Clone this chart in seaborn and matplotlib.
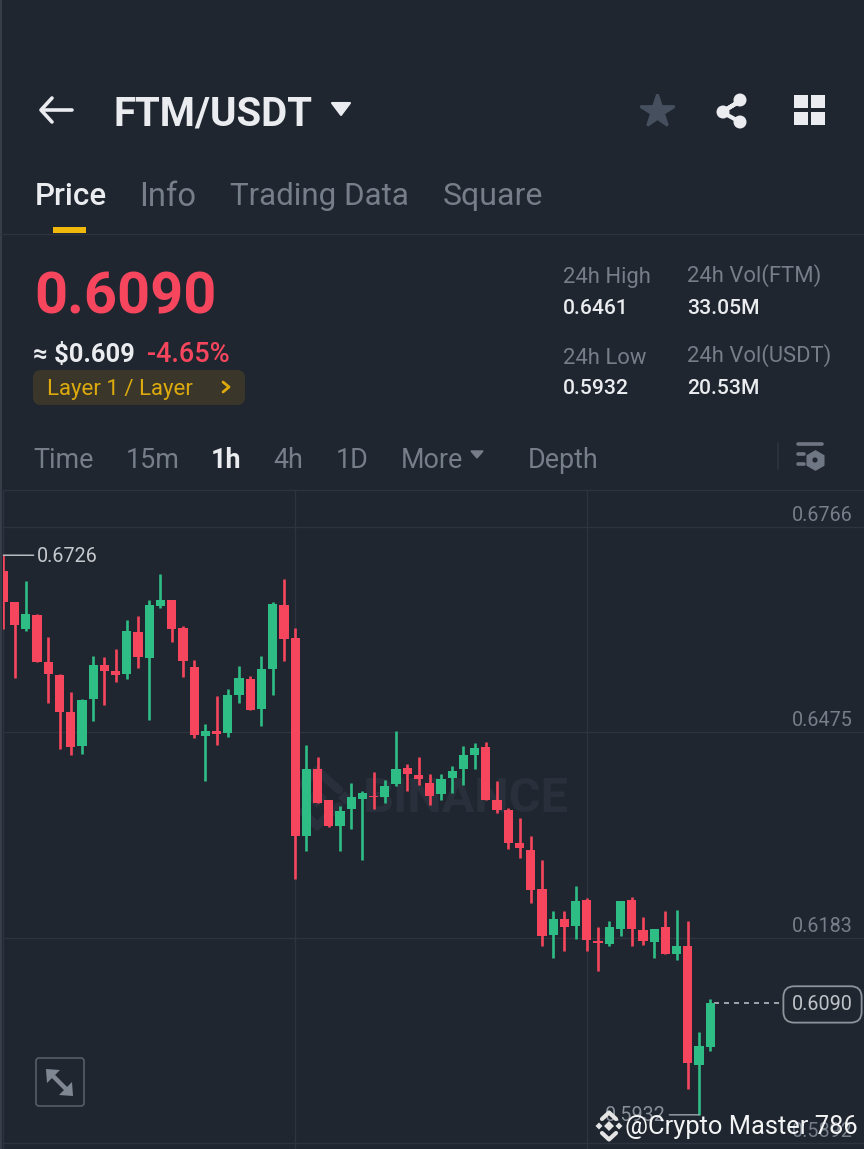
import numpy as np
import pandas as pd
import seaborn as sns
import matplotlib
matplotlib.use("Agg")
import matplotlib.pyplot as plt
from matplotlib.patches import FancyBboxPatch, Polygon, Circle, Rectangle

highs = [.6726,.6659,.6689,.6643,.6610,.6557,.6532,.6522,.6583,.6582,.6593,.6634,.6640,.6663,.6700,.6663,
         .6625,.6578,.6487,.6526,.6536,.6569,.6555,.6583,.6660,.6692,.6622,.6456,.6440,.6379,.6370,.6403,
         .6391,.6419,.6407,.6476,.6430,.6440,.6415,.6415,.6427,.6455,.6459,.6461,.6406,.6367,.6353,.6327,
         .6293,.6221,.6221,.6256,.6240,.6199,.6207,.6236,.6241,.6212,.6196,.6221,.6223,.6207,.6050,.6096]
tops = [.6703,.6659,.6642,.6641,.6574,.6556,.6503,.6521,.6570,.6570,.6562,.6618,.6617,.6655,.6662,.6662,
        .6622,.6568,.6477,.6477,.6527,.6552,.6551,.6564,.6657,.6655,.6609,.6422,.6422,.6379,.6363,.6383,
        .6389,.6385,.6399,.6423,.6424,.6414,.6403,.6409,.6420,.6442,.6453,.6454,.6379,.6364,.6317,.6308,
        .6252,.6210,.6210,.6235,.6237,.6179,.6198,.6235,.6237,.6194,.6196,.6198,.6171,.6172,.6030,.6090]
bottoms = [.6659,.6627,.6621,.6575,.6558,.6504,.6454,.6455,.6522,.6562,.6556,.6557,.6582,.6580,.6654,.6621,
           .6576,.6471,.6470,.6473,.6474,.6527,.6507,.6508,.6564,.6607,.6327,.6327,.6375,.6342,.6342,.6366,
           .6380,.6383,.6383,.6401,.6416,.6408,.6385,.6387,.6410,.6423,.6443,.6379,.6365,.6318,.6311,.6251,
           .6186,.6187,.6199,.6200,.6180,.6176,.6175,.6196,.6196,.6179,.6177,.6160,.6160,.6006,.6003,.6028]
lows = [.6621,.6552,.6618,.6574,.6516,.6451,.6443,.6444,.6491,.6514,.6546,.6551,.6566,.6492,.6651,.6603,
        .6553,.6466,.6406,.6457,.6468,.6516,.6507,.6484,.6527,.6576,.6266,.6306,.6375,.6340,.6307,.6338,
        .6293,.6366,.6375,.6398,.6391,.6400,.6372,.6378,.6389,.6400,.6423,.6379,.6360,.6309,.6297,.6233,
        .6172,.6154,.6165,.6181,.6164,.6136,.6171,.6186,.6171,.6173,.6154,.6160,.6152,.5968,.5932,.6022]
directions = ['R','R','G','R','R','R','R','G','G','R','R','G','R','G','G','R',
              'R','R','G','R','G','G','R','G','G','R','R','G','R','R','G','G',
              'G','R','G','G','R','R','R','G','G','G','G','R','R','R','R','R',
              'R','G','R','G','R','R','G','G','R','R','G','R','G','R','G','G']
grid_prices = [0.6766, 0.6475, 0.6183, 0.5892]
grid_labels = ['0.6766', '0.6475', '0.6183', '0.5892']
grid_candles = [26, 52]
last_price = 0.6090
period_high = 0.6726
period_low = 0.5932

BG = '#1f2630'; GRID = '#2d343f'; UP = '#2ebd85'; DOWN = '#f6465d'
GRAY = '#767e8a'; WHITE = '#eaecef'; YELLOW = '#f0b90b'
W, H = 864, 1149
FONT = ['Roboto', 'DejaVu Sans']
X0, DX = 3.4, 11.22
SCALE = 7048.0

sns.set_theme(style='dark', rc={'axes.facecolor': 'none', 'figure.facecolor': BG})
plt.rcParams['font.family'] = FONT

df = pd.DataFrame(dict(i=np.arange(len(highs)), h=highs, t=tops, b=bottoms, l=lows, d=directions))
fig = plt.figure(figsize=(W/100, H/100), dpi=100, facecolor=BG)
ui = fig.add_axes([0, 0, 1, 1]); ui.set_xlim(0, W); ui.set_ylim(H, 0); ui.axis('off')
ax = fig.add_axes([3/W, 0, (W-3)/W, (H-490)/H]); ax.set_zorder(2)

def T(x, y, s, size, color=GRAY, weight='normal', ha='left', **k):
    return ui.text(x, y+2, s, fontsize=size, color=color, fontweight=weight, ha=ha, va='center', **k)

# frame lines
ui.plot([0.8, 0.8], [0, H], color='#3d444f', lw=1.2)
ui.plot([0, W], [234, 234], color=GRID, lw=1)
ui.plot([3, W], [490, 490], color=GRID, lw=1)
ui.plot([3, 3], [490, H], color=GRID, lw=1)

# header
ui.plot([42, 72], [110, 110], color=WHITE, lw=2.6)
ui.plot([52, 41, 52], [98, 110, 122], color=WHITE, lw=2.6, solid_joinstyle='round')
T(114, 112.5, 'FTM/USDT', 29, WHITE, 'bold')
ui.add_patch(Polygon([[332, 103], [350, 103], [341, 115]], closed=True, fc=WHITE, ec=WHITE, lw=1.5, joinstyle='round'))
ui.plot([657], [111], marker='*', ms=25, color='#464f5e', mec='#464f5e', mew=2, mfc='#464f5e')
ui.plot([722, 740, 722, 740], [112, 101, 112, 122], color=WHITE, lw=3)
for cx, cy, r in [(723, 112, 6.5), (740, 100, 6.5), (740, 122, 6.5)]:
    ui.add_patch(Circle((cx, cy), r, fc=WHITE, ec='none'))
for x0 in (794, 811):
    for y0 in (95, 112):
        ui.add_patch(Rectangle((x0, y0), 14, 13, fc=WHITE, ec='none'))

T(35, 194.5, 'Price', 22.5, WHITE, 'medium')
T(139, 194.5, 'Info', 23.5, GRAY)
T(230, 194.5, 'Trading Data', 22.5, GRAY)
T(443, 194.5, 'Square', 23, GRAY)
ui.add_patch(Rectangle((53, 227), 33, 6, fc=YELLOW, ec='none'))

# price block
T(34, 296, '0.6090', 41.5, DOWN, 'bold')
T(33, 353, '≈ $0.609', 18.4, WHITE, 'bold')
T(147, 353, '-4.65%', 19.5, DOWN, 'medium')
ui.add_patch(FancyBboxPatch((39, 376), 200, 23, boxstyle='round,pad=6,rounding_size=8', fc='#3a3629', ec='none'))
T(47, 387, 'Layer 1 / Layer', 16, '#dcaa0d')
ui.plot([223, 229, 223], [382, 387, 392], color='#dcaa0d', lw=2)

T(563, 276, '24h High', 15.8)
T(563, 306, '0.6461', 15.2, WHITE, 'medium')
T(687, 274, '24h Vol(FTM)', 15.8)
T(687, 306, '33.05M', 15.2, WHITE, 'medium')
T(563, 356, '24h Low', 15.8)
T(563, 386, '0.5932', 15.2, WHITE, 'medium')
T(687, 354, '24h Vol(USDT)', 15.8)
T(687, 386, '20.53M', 15.2, WHITE, 'medium')

# interval row
for x, s in [(33, 'Time'), (126, '15m'), (273, '4h'), (336, '1D'), (401, 'More'), (528, 'Depth')]:
    T(x, 458, s, 19.4)
T(211, 458, '1h', 19.4, WHITE, 'bold')
ui.add_patch(Polygon([[471, 451], [483, 451], [477, 458]], closed=True, fc=GRAY, ec=GRAY, lw=1))
ui.plot([778, 778], [443, 469], color=GRID, lw=1.2)
ICON = '#6f7784'
ui.plot([798, 822], [444, 444], color=ICON, lw=2.6)
ui.plot([798, 804], [454, 454], color=ICON, lw=2.6)
ui.plot([798, 804], [464, 464], color=ICON, lw=2.6)
ui.plot([815], [460], marker='h', ms=15, color=ICON, mec=ICON, mew=0)
ui.add_patch(Circle((815, 460), 2.6, fc=BG, ec='none', zorder=4))

# watermark
MARK = '#2a303b'
ui.text(363, 799, 'BINANCE', fontsize=35, color=MARK, fontweight='bold', va='center', ha='left')
ui.plot([303, 317, 339], [784, 770, 790], color=MARK, lw=6)
ui.plot([303, 317, 339], [812, 826, 806], color=MARK, lw=6)
ui.add_patch(Polygon([[307, 798], [317, 788], [327, 798], [317, 808]], closed=True, fc=MARK, ec='none'))
ui.add_patch(Polygon([[338, 798], [345, 791], [352, 798], [345, 805]], closed=True, fc=MARK, ec='none'))

# candles
ax.set_facecolor('none')
for d, col in [('G', UP), ('R', DOWN)]:
    sub = df[df.d == d]
    sns.barplot(x=sub.i.values, y=(sub.t - sub.b).values, bottom=sub.b.values, native_scale=True,
                color=col, saturation=1, width=0.82, linewidth=0, errorbar=None, ax=ax, zorder=3)
    ax.vlines(sub.i, sub.l, sub.h, color=col, lw=1.9, zorder=3)

ax.set_xlim((3-X0)/DX, (W-X0)/DX)
ax.set_ylim(0.6766-(H-527)/SCALE, 0.6766-(490-527)/SCALE)
ax.set_yticks(grid_prices); ax.set_xticks(grid_candles)
ax.set_xticklabels([]); ax.set_yticklabels([])
ax.grid(True, color=GRID, lw=1); ax.set_axisbelow(True)
ax.tick_params(length=0)
ax.set_xlabel(''); ax.set_ylabel('')
for s in ax.spines.values():
    s.set_visible(False)

for p, lab in zip(grid_prices, grid_labels):
    ax.annotate(lab, xy=(1, p), xycoords=('axes fraction', 'data'), xytext=(-8, 8.2),
                textcoords='offset points', color=GRAY, fontsize=14.2, ha='right', va='center')

# high / low / last labels
ax.annotate('0.6726', xy=(0, period_high), xytext=(33.5, -1), xycoords=('data', 'data'),
            textcoords='offset pixels', color='#c6c9ce', fontsize=14.2, va='center', ha='left',
            arrowprops=dict(arrowstyle='-', color='#c6c9ce', lw=1, shrinkA=0, shrinkB=0, relpos=(0, 0.55)))
ax.annotate('0.5932', xy=(62, period_low), xytext=(-33, -1), xycoords='data', textcoords='offset pixels',
            color='#8a9099', fontsize=14.2, va='center', ha='right',
            arrowprops=dict(arrowstyle='-', color='#a0a5ac', lw=1, shrinkA=0, shrinkB=0, relpos=(1, 0.55)))
ax.plot([63.3, (779-X0)/DX], [last_price, last_price], color='#b4b8be', lw=1.2, ls=(0, (3, 3)), zorder=2)
ax.annotate('0.6090', xy=(1, last_price), xycoords=('axes fraction', 'data'), xytext=(-41.5, -1),
            textcoords='offset pixels', color='#c0c3c8', fontsize=14.2, ha='center', va='center',
            bbox=dict(boxstyle='round,pad=0.44,rounding_size=0.55', fc=BG, ec='#8f949b', lw=1.3))

# expand button
ui.add_patch(FancyBboxPatch((38, 1060), 44, 44, boxstyle='round,pad=2,rounding_size=3', fc=BG, ec='#565d68', lw=1.2, zorder=5))
AR = '#7f8793'
ui.plot([50, 69], [1073, 1092], color=AR, lw=3.2, zorder=6)
ui.add_patch(Polygon([[46, 1069], [60, 1070], [47, 1083]], closed=True, fc=AR, ec='none', zorder=6))
ui.add_patch(Polygon([[73, 1096], [59, 1095], [72, 1082]], closed=True, fc=AR, ec='none', zorder=6))

# foreground watermark
ov = fig.add_axes([0, 0, 1, 1]); ov.set_xlim(0, W); ov.set_ylim(H, 0); ov.axis('off'); ov.set_zorder(5)
ov.text(625, 1127, '@Crypto Master 786', fontsize=18.4, color='white', ha='left', va='center', alpha=0.95)
logo = '#e4e4e4'
for cx, cy, s in [(609, 1126, 5), (599, 1126, 3.5), (619, 1126, 3.5)]:
    ov.add_patch(Polygon([[cx-s, cy], [cx, cy-s], [cx+s, cy], [cx, cy+s]], closed=True, fc=logo, ec='none'))
ov.plot([602, 609, 616], [1119, 1112.5, 1119], color=logo, lw=3)
ov.plot([602, 609, 616], [1133, 1139.5, 1133], color=logo, lw=3)

fig.savefig('out.png', dpi=100, facecolor=BG)
